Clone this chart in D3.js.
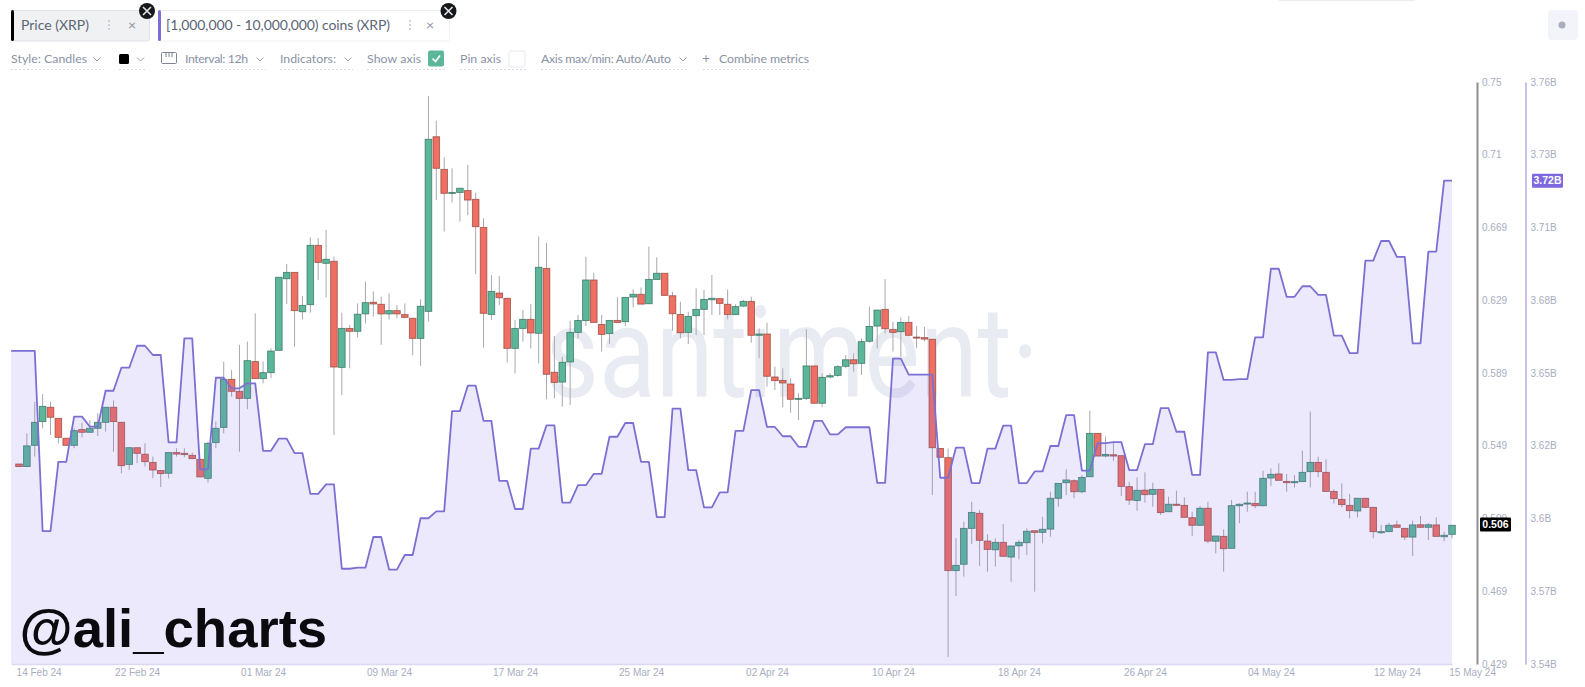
<!DOCTYPE html>
<html>
<head>
<meta charset="utf-8">
<script src="https://cdn.jsdelivr.net/npm/d3@7"></script>
<style>
html,body{margin:0;padding:0;background:#fff;overflow:hidden}
svg{display:block}
text{font-family:Lato,"Open Sans",sans-serif}
.ax text{font-family:"Liberation Sans",Arial,sans-serif;font-size:10px;fill:#a7adbf}
</style>
</head>
<body>
<div id="chart"></div>
<script>
// ---- Price (XRP), 12h candles ----
const open = [
.5393,.5379,.5496,.5627,.5706,.5645,.5535,.5496,.5583,.5568,
.5590,.5623,.5706,.5623,.5391,.5483,.5447,.5402,.5357,.5342,
.5456,.5452,.5441,.5419,.5314,.5511,.5595,.5860,.5794,.5755,
.5958,.5864,.5897,.6020,.6415,.6450,.6233,.6272,.6599,.6500,
.6511,.5926,.6141,.6125,.6221,.6285,.6274,.6221,.6239,.6217,
.6197,.6086,.6235,.7198,.7018,.6886,.6891,.6901,.6853,.6698,
.6218,.6336,.6307,.6031,.6141,.6191,.6114,.6472,.5899,.5845,
.5956,.6119,.6184,.6408,.6163,.6112,.6185,.6178,.6314,.6329,
.6277,.6411,.6445,.6321,.6218,.6119,.6211,.6246,.6299,.6305,
.6274,.6217,.6264,.6290,.6103,.6110,.5873,.5854,.5834,.5750,
.5755,.5934,.5728,.5873,.5882,.5932,.5968,.5948,.6070,.6154,
.6246,.6134,.6123,.6174,.6093,.6090,.6081,.5479,.5428,.4805,
.4840,.5038,.5121,.4968,.4920,.4961,.4880,.4942,.4959,.5025,
.5016,.5034,.5204,.5290,.5301,.5240,.5323,.5562,.5437,.5444,
.5439,.5268,.5192,.5249,.5226,.5253,.5130,.5171,.5165,.5097,
.5055,.5149,.4967,.4994,.4928,.5163,.5172,.5176,.5163,.5316,
.5338,.5297,.5290,.5296,.5351,.5402,.5347,.5242,.5198,.5165,
.5134,.5204,.5154,.5014,.5020,.5057,.5038,.4990,.5058,.5044,
.5057,.4992,.5005];
const close = [
.5379,.5493,.5623,.5711,.5651,.5540,.5496,.5577,.5568,.5590,
.5623,.5706,.5627,.5384,.5483,.5452,.5406,.5360,.5340,.5456,
.5448,.5445,.5423,.5322,.5507,.5590,.5860,.5794,.5755,.5963,
.5864,.5897,.6016,.6423,.6450,.6239,.6268,.6599,.6505,.6522,
.5928,.6141,.6125,.6219,.6283,.6276,.6221,.6239,.6221,.6202,
.6086,.6263,.7184,.7024,.6886,.6891,.6914,.6849,.6702,.6224,
.6345,.6310,.6031,.6141,.6191,.6116,.6478,.5888,.5843,.5954,
.6119,.6185,.6408,.6174,.6108,.6185,.6174,.6312,.6329,.6275,
.6411,.6445,.6323,.6222,.6117,.6207,.6246,.6301,.6307,.6279,
.6218,.6261,.6290,.6103,.6110,.5877,.5853,.5840,.5750,.5755,
.5934,.5728,.5871,.5880,.5930,.5968,.5946,.6068,.6152,.6242,
.6139,.6119,.6174,.6103,.6088,.6082,.5483,.5430,.4805,.4834,
.5038,.5126,.4972,.4922,.4961,.4884,.4941,.4961,.5022,.5016,
.5033,.5204,.5286,.5305,.5240,.5319,.5562,.5437,.5446,.5437,
.5270,.5194,.5248,.5224,.5253,.5125,.5171,.5165,.5099,.5055,
.5149,.4968,.4996,.4926,.5163,.5171,.5178,.5163,.5314,.5336,
.5303,.5290,.5296,.5347,.5402,.5351,.5242,.5202,.5169,.5136,
.5204,.5154,.5020,.5020,.5055,.5044,.4990,.5057,.5044,.5058,
.4994,.5000,.5055];
const high = [
.5393,.5562,.5737,.5779,.5737,.5645,.5535,.5590,.5621,.5636,
.5673,.5706,.5743,.5623,.5483,.5483,.5507,.5434,.5357,.5456,
.5480,.5480,.5456,.5419,.5516,.5627,.5958,.5912,.6050,.6068,
.6224,.5958,.6031,.6423,.6496,.6450,.6320,.6643,.6638,.6684,
.6537,.6228,.6160,.6279,.6399,.6344,.6316,.6334,.6270,.6279,
.6197,.6301,.7423,.7287,.7085,.7024,.6914,.7042,.6890,.6748,
.6435,.6430,.6307,.6187,.6242,.6275,.6647,.6614,.6099,.5985,
.6184,.6215,.6536,.6448,.6215,.6185,.6312,.6312,.6356,.6367,
.6592,.6533,.6445,.6343,.6288,.6233,.6362,.6353,.6435,.6307,
.6356,.6274,.6298,.6316,.6141,.6172,.5930,.5921,.5866,.5783,
.6136,.5934,.5893,.5893,.5939,.5994,.6003,.6086,.6261,.6242,
.6413,.6178,.6202,.6209,.6154,.6150,.6081,.5479,.5479,.4983,
.5075,.5185,.5139,.5005,.4983,.5062,.4941,.4974,.5038,.5025,
.5102,.5240,.5286,.5363,.5308,.5332,.5687,.5562,.5544,.5516,
.5439,.5295,.5319,.5347,.5290,.5253,.5213,.5246,.5209,.5130,
.5161,.5185,.4996,.5033,.5195,.5176,.5240,.5240,.5356,.5369,
.5397,.5338,.5332,.5467,.5682,.5433,.5419,.5253,.5286,.5228,
.5204,.5204,.5154,.5057,.5069,.5081,.5038,.5081,.5106,.5066,
.5099,.5020,.5055];
const low = [
.5379,.5379,.5434,.5590,.5553,.5507,.5496,.5480,.5540,.5568,
.5548,.5572,.5461,.5342,.5360,.5397,.5379,.5314,.5265,.5314,
.5434,.5430,.5419,.5322,.5290,.5480,.5562,.5765,.5461,.5695,
.5864,.5838,.5866,.6020,.6276,.6040,.6191,.6228,.6408,.6312,
.5553,.5774,.5921,.6092,.6169,.6206,.6050,.6191,.6197,.6197,
.5993,.5934,.6178,.6849,.6675,.6835,.6730,.6766,.6441,.6035,
.6187,.6270,.5952,.5893,.6068,.6031,.5948,.5750,.5755,.5709,
.5718,.6086,.6154,.6174,.6013,.6055,.6174,.6154,.6257,.6275,
.6277,.6411,.6323,.6128,.6086,.6055,.6104,.6104,.6215,.6215,
.6191,.6215,.6261,.6062,.5976,.5820,.5801,.5706,.5676,.5636,
.5746,.5728,.5706,.5866,.5875,.5921,.5902,.5884,.6062,.6031,
.6114,.6013,.5985,.6103,.6031,.6068,.5222,.5430,.4328,.4665,
.4772,.4952,.4830,.4799,.4827,.4884,.4744,.4867,.4891,.4689,
.4955,.4992,.5158,.5222,.5204,.5231,.5323,.5437,.5430,.5411,
.5216,.5167,.5135,.5180,.5158,.5112,.5130,.5165,.5099,.4996,
.5051,.4956,.4900,.4799,.4928,.5066,.5130,.5149,.5163,.5272,
.5303,.5240,.5264,.5296,.5264,.5320,.5242,.5176,.5154,.5093,
.5099,.5149,.4983,.5007,.5020,.5040,.4974,.4886,.5040,.4974,
.4994,.4967,.4983];

// ---- [1,000,000 - 10,000,000) coins (XRP), in billions, one value per day ----
const supply = [
3.6584,3.6584,3.5902,3.6164,3.6335,3.6297,3.6433,3.6520,3.6603,3.6568,
3.6238,3.6631,3.6136,3.6482,3.6442,3.6461,3.6206,3.6252,3.6197,3.6043,
3.6079,3.5760,3.5764,3.5880,3.5757,3.5812,3.5951,3.5977,3.6356,3.6452,
3.6319,3.6092,3.5986,3.6214,3.6302,3.6010,3.6076,3.6119,3.6259,3.6311,
3.6164,3.5955,3.6365,3.6133,3.5992,3.6049,3.6281,3.6435,3.6296,3.6261,
3.6221,3.6319,3.6268,3.6295,3.6295,3.6085,3.6554,3.6494,3.6494,3.6104,
3.6218,3.6084,3.6214,3.6301,3.6084,3.6128,3.6224,3.6341,3.6131,3.6235,
3.6239,3.6133,3.6231,3.6367,3.6278,3.6115,3.6578,3.6474,3.6477,3.6635,
3.6894,3.6788,3.6828,3.6795,3.6641,3.6575,3.6925,3.6999,3.6939,3.6612,
3.6959,3.7227];

// ---- axes ----
const priceTicks = [0.75,0.7099,0.6698,0.6296,0.5895,0.5494,0.5093,0.4691,0.429];
const priceLabels = ["0.75","0.71","0.669","0.629","0.589","0.549","0.509","0.469","0.429"];
const supplyTicks = [3.76,3.7325,3.705,3.6775,3.65,3.6225,3.595,3.5675,3.54];
const supplyLabels = ["3.76B","3.73B","3.71B","3.68B","3.65B","3.62B","3.6B","3.57B","3.54B"];
const dateTicks = ["2024-02-14","2024-02-22","2024-03-01","2024-03-09","2024-03-17","2024-03-25","2024-04-02","2024-04-10","2024-04-18","2024-04-26","2024-05-04","2024-05-12","2024-05-15"];
const lastPrice = 0.506, lastPriceLabel = "0.506";
const lastSupply = 3.7227, lastSupplyLabel = "3.72B";

const W = 1585, H = 687;
const t0 = new Date(Date.UTC(2024,1,14));
const t1 = new Date(Date.UTC(2024,4,15,12));
const x = d3.scaleUtc().domain([t0,t1]).range([11.13,1452]);
const yP = d3.scaleLinear().domain([0.429,0.75]).range([664,82]);
const yS = d3.scaleLinear().domain([3.54,3.76]).range([664,82]);

const svg = d3.select("#chart").append("svg").attr("width",W).attr("height",H).attr("viewBox",`0 0 ${W} ${H}`);

// watermark
svg.append("text").attr("x",545).attr("y",397).attr("textLength",494).attr("lengthAdjust","spacingAndGlyphs")
  .style("font-family","Roboto").style("font-weight",400).style("font-size","128px").attr("fill","#e9ebf3").text("santiment·");

// candles
const candles = open.map((o,i)=>({t:d3.utcHour.offset(t0,12*(i+1)),o,c:close[i],h:high[i],l:low[i]}));
const GREEN="#5cb79a",GS="#2d6b58",RED="#ef7062",RS="#8e423a";
const cg = svg.append("g");
cg.selectAll("line").data(candles).join("line")
  .attr("x1",d=>x(d.t)).attr("x2",d=>x(d.t)).attr("y1",d=>yP(d.h)).attr("y2",d=>yP(d.l))
  .attr("stroke","#a9a9ad").attr("stroke-width",1);
cg.selectAll("rect").data(candles).join("rect")
  .attr("x",d=>x(d.t)-3.3).attr("width",6.6)
  .attr("y",d=>yP(Math.max(d.o,d.c)))
  .attr("height",d=>Math.max(1,Math.abs(yP(d.o)-yP(d.c))))
  .attr("fill",d=>d.c>=d.o?GREEN:RED)
  .attr("stroke",d=>d.c>=d.o?GS:RS).attr("stroke-opacity",.75).attr("stroke-width",.9);

// supply area + line: each daily value holds for 12h, then moves to the next one
const pts = supply.flatMap((v,k)=>{
  const d=d3.utcDay.offset(t0,k);
  return [{t:d,v},{t:d3.utcHour.offset(d,12),v}];
});
svg.append("path").datum(pts).attr("fill","#7c67ea").attr("fill-opacity",.145)
  .attr("d",d3.area().x(d=>x(d.t)).y0(yS(3.54)).y1(d=>yS(d.v)));
svg.append("path").datum(pts).attr("fill","none").attr("stroke","#7b70d2").attr("stroke-width",1.8)
  .attr("stroke-linejoin","round")
  .attr("d",d3.line().x(d=>x(d.t)).y(d=>yS(d.v)));

// x axis
const fmt = d3.utcFormat("%d %b %y");
const xAxis = d3.axisBottom(x).tickValues(dateTicks.map(s=>new Date(s+"T00:00:00Z"))).tickFormat(fmt).tickSize(0).tickPadding(5);
const gx = svg.append("g").attr("class","ax").attr("transform","translate(0,664)").call(xAxis);
gx.select(".domain").attr("stroke","#dcd8f2").attr("stroke-width",1.5);
gx.selectAll(".tick text").attr("dx",(d,i)=> i===0?27.5 : i===dateTicks.length-1?28 : 0);

// right axes
function yAxis(scale,ticks,labels,xpos,stroke){
  const a=d3.axisRight(scale).tickValues(ticks).tickFormat((d,i)=>labels[i]).tickSize(0).tickPadding(5);
  const g=svg.append("g").attr("class","ax").attr("transform",`translate(${xpos},0)`).call(a);
  g.select(".domain").attr("stroke",stroke).attr("stroke-width",2);
  return g;
}
yAxis(yP,priceTicks,priceLabels,1477,"#8d8d8d");
yAxis(yS,supplyTicks,supplyLabels,1525.5,"#c6c0ea");

// last value badges
function badge(xL,w,y,fill,label){
  const g=svg.append("g");
  g.append("rect").attr("x",xL).attr("y",y-7).attr("width",w).attr("height",14).attr("fill",fill).attr("rx",1);
  g.append("text").attr("x",xL+w/2).attr("y",y+3.7).attr("text-anchor","middle").attr("fill","#fff")
   .style("font-family","'Liberation Sans'").style("font-size","10.5px").style("font-weight",700).text(label);
}
badge(1480,31,yP(lastPrice),"#000",lastPriceLabel);
badge(1532,31,yS(lastSupply),"#7e68de",lastSupplyLabel);

// author tag
svg.append("text").attr("x",19.5).attr("y",646.5).style("font-family","'Liberation Sans'").style("font-weight",700)
  .style("font-size","54.5px").attr("fill","#0b0b0f").text("@ali_charts");

// ---- header UI ----
const ui = svg.append("g");
function tab(xL,w,bg,bar,border,label,labelX,labelW,dotX,closeX,badgeX){
  ui.append("rect").attr("x",xL+.5).attr("y",10.5).attr("width",w).attr("height",30.5).attr("rx",2.5).attr("fill",bg).attr("stroke",border);
  ui.append("rect").attr("x",xL).attr("y",10).attr("width",3).attr("height",31).attr("rx",1.5).attr("fill",bar);
  ui.append("text").attr("x",labelX).attr("y",29.5).attr("textLength",labelW).attr("fill","#5b6575").style("font-size","14px").text(label);
  [-4,0,4].forEach(d=>ui.append("circle").attr("cx",dotX).attr("cy",25+d).attr("r",.9).attr("fill","#b9bec9"));
  ui.append("text").attr("x",closeX).attr("y",29.5).attr("text-anchor","middle").attr("fill","#8a92a3").style("font-size","14px").text("×");
  ui.append("circle").attr("cx",badgeX).attr("cy",11).attr("r",8).attr("fill","#17181c");
  ui.append("path").attr("d",`M${badgeX-4},7 L${badgeX+4},15 M${badgeX+4},7 L${badgeX-4},15`).attr("stroke","#e8e8ea").attr("stroke-width",1.6);
}
tab(11,138,"#f0f1f3","#000","#dfe1e6","Price (XRP)",21,68,109,132,147);
tab(158,291,"#fff","#7c6fd4","#eeeff2","[1,000,000 - 10,000,000) coins (XRP)",166,224,410,430,448.5);

const row = [
  {s:"Style: Candles",x:11,w:76,chev:97,u:[11,104]},
  {s:"Interval: 12h",x:185,w:63,chev:260,u:[161,266]},
  {s:"Indicators:",x:280,w:56,chev:348,u:[280,353]},
  {s:"Show axis",x:367,w:54,u:[367,445]},
  {s:"Pin axis",x:460,w:41,u:[460,526]},
  {s:"Axis max/min: Auto/Auto",x:541,w:130,chev:683,u:[541,688]},
  {s:"Combine metrics",x:719,w:90,u:[703,809]}
];
row.forEach(r=>{
  ui.append("text").attr("x",r.x).attr("y",62.5).attr("textLength",r.w).attr("fill","#8a92a6").style("font-size","12.3px").text(r.s);
  if(r.chev) ui.append("path").attr("d",`M${r.chev-3.5},57.5 L${r.chev},61 L${r.chev+3.5},57.5`).attr("fill","none").attr("stroke","#9aa1b2").attr("stroke-width",1);
  ui.append("line").attr("x1",r.u[0]).attr("x2",r.u[1]).attr("y1",69.5).attr("y2",69.5).attr("stroke","#d6d9e0").attr("stroke-dasharray","2 2");
});
// colour swatch
ui.append("rect").attr("x",119).attr("y",54).attr("width",10).attr("height",10).attr("rx",1.5).attr("fill","#000");
ui.append("path").attr("d","M137,57.5 L140.5,61 L144,57.5").attr("fill","none").attr("stroke","#9aa1b2");
ui.append("line").attr("x1",119).attr("x2",147).attr("y1",69.5).attr("y2",69.5).attr("stroke","#d6d9e0").attr("stroke-dasharray","2 2");
// interval icon
ui.append("rect").attr("x",161.5).attr("y",52.5).attr("width",15).attr("height",11).attr("rx",1).attr("fill","none").attr("stroke","#7d8496");
[166,169,172].forEach(v=>ui.append("line").attr("x1",v).attr("x2",v).attr("y1",53).attr("y2",57).attr("stroke","#7d8496"));
// checkboxes
ui.append("rect").attr("x",428).attr("y",50.5).attr("width",16).attr("height",16).attr("rx",2).attr("fill","#5cb79a");
ui.append("path").attr("d","M432.5,58.5 L435.5,61.5 L440,55.5").attr("fill","none").attr("stroke","#fff").attr("stroke-width",1.6);
ui.append("rect").attr("x",509).attr("y",51).attr("width",16).attr("height",16).attr("rx",2).attr("fill","#fff").attr("stroke","#e6e8ec");
// plus
ui.append("text").attr("x",706).attr("y",63).attr("text-anchor","middle").attr("fill","#8a92a6").style("font-size","13px").text("+");
// top-right control
ui.append("rect").attr("x",1548).attr("y",10).attr("width",30).attr("height",30).attr("rx",4).attr("fill","#f2f4f9");
ui.append("circle").attr("cx",1562).attr("cy",25).attr("r",3.5).attr("fill","#a7aec0");
ui.append("line").attr("x1",1279).attr("x2",1415).attr("y1",.5).attr("y2",.5).attr("stroke","#ececf0");
</script>
</body>
</html>
